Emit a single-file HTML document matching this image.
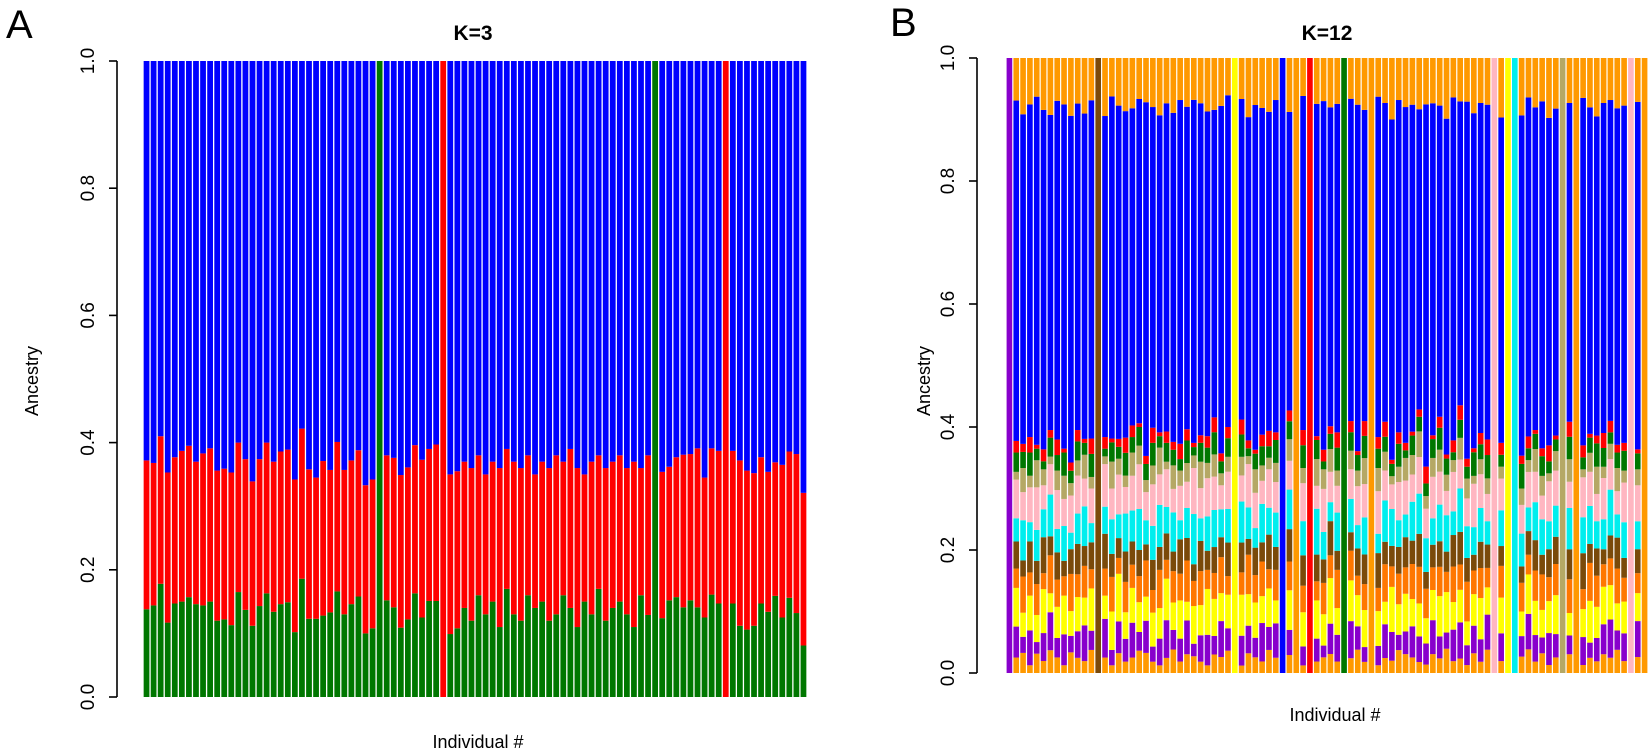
<!DOCTYPE html>
<html><head><meta charset="utf-8">
<style>
html,body{margin:0;padding:0;background:#fff;}
svg{display:block;font-family:"Liberation Sans",Arial,sans-serif;}
</style></head>
<body>
<svg id="fig" width="1650" height="751" viewBox="0 0 1650 751">
  <text x="6" y="38" font-size="40">A</text>
  <text x="890" y="36" font-size="40">B</text>
  <text x="473" y="40" font-size="21" font-weight="bold" text-anchor="middle">K=3</text>
  <text x="1327" y="40" font-size="21" font-weight="bold" text-anchor="middle">K=12</text>
  <text transform="translate(38,381) rotate(-90)" font-size="18" text-anchor="middle">Ancestry</text>
  <text transform="translate(930,381) rotate(-90)" font-size="18" text-anchor="middle">Ancestry</text>
  <text x="478" y="748" font-size="18" text-anchor="middle">Individual #</text>
  <text x="1335" y="721" font-size="18" text-anchor="middle">Individual #</text>
  <g id="gA"></g>
  <g id="gB"></g>
</svg>
<script>
// ---- Panel A data (K=3) ----
const greenA = [.138,.144,.178,.117,.147,.150,.157,.146,.144,.150,.120,.122,.113,.165,.137,.112,.143,.163,.134,.146,.149,.102,.186,.123,.123,.128,.133,.166,.130,.146,.158,.100,.108,
1,
.152,.141,.109,.122,.163,.125,.151,.151,
0,
.099,.108,
.14,.12,.16,.13,.15,.11,.17,.13,.12,.16,.14,.15,.12,.13,.16,.14,.11,.15,.13,.17,.12,.14,.15,.13,.11,.16,.129,
1,
.124,.152,.157,.141,.152,.141,.125,.161,.147,
0,
.147,.112,.106,.112,.147,.134,.159,.125,.156,.132,.081];
const redA = [.234,.224,.232,.236,.230,.237,.238,.224,.239,.241,.236,.237,.240,.235,.237,.227,.231,.237,.236,.240,.240,.240,.236,.235,.222,.243,.224,.235,.227,.226,.230,.233,.234,
0,
.228,.235,.240,.239,.233,.248,.239,.246,
1,
.251,.247,
.23,.24,.22,.22,.22,.25,.22,.24,.24,.22,.21,.22,.24,.25,.21,.25,.25,.20,.24,.21,.24,.23,.23,.23,.26,.20,.251,
0,
.23,.21,.22,.24,.23,.25,.22,.23,.24,
1,
.24,.26,.25,.24,.23,.22,.21,.24,.23,.25,.24];
const tickLabels = ["0.0","0.2","0.4","0.6","0.8","1.0"];
const tickValues = [0,0.2,0.4,0.6,0.8,1.0];

// ---- Panel B data (K=12), relative weights per individual, bottom to top ----
const orange1B = [3,4,5,2,5,3,6,4,2,5, 4,3,6,5,4,2,5,3,4,6, 5,3,2,4,6,3,5,4,3,2, 5,4,6,3,2,5,4,3,6,4, 3,5,4,2,6,3,4,5,3,2, 4,6,3,5,2,4,3,6,5,4, 3,2,5,4,6,3,4,2,5,3, 6,4,3,5,2,4,6,3,5,2, 4,3,5,6,2,4,3,5,4,6, 3,5,4,2];
const purpleB = [6,8,4,9,3,7,10,5,8,4, 7,9,5,6,10,4,8,6,9,5, 8,4,7,10,5,6,9,3,7,8, 5,9,6,4,8,7,5,10,6,9, 4,7,8,5,9,6,3,8,7,5, 10,6,4,8,5,9,7,4,6,8, 7,5,9,6,4,8,10,5,7,6, 9,4,7,8,6,5,9,7,4,8, 6,8,5,9,7,4,6,8,10,5, 7,6,9,4];
const yellowB = [8,10,6,9,7,11,5,8,10,6, 9,7,11,8,6,10,12,7,9,8, 6,9,8,11,7,10,5,9,8,12, 10,7,9,6,11,8,9,7,10,6, 8,11,7,9,6,10,8,12,7,9, 11,8,10,7,9,6,11,8,10,7, 9,6,8,11,10,7,9,6,8,11, 7,10,9,8,12,6,10,9,7,8, 10,8,6,9,7,11,8,10,9,7, 8,11,7,9];
const darkOrangeB = [7,5,9,6,8,4,10,7,5,9, 6,8,5,10,7,9,4,8,6,7, 9,6,10,5,8,7,11,6,9,5, 7,9,5,8,6,10,7,9,5,8, 6,8,10,7,9,5,8,6,10,7, 8,5,7,9,6,10,5,8,7,9, 10,7,6,8,5,9,7,10,6,8, 5,9,8,6,10,7,5,8,9,6, 8,6,9,7,5,10,8,6,7,9, 6,9,5,8];
const brownB = [5,7,4,8,6,9,5,7,4,6, 8,5,7,4,9,6,5,8,6,7, 4,8,6,7,5,9,6,4,8,5, 7,5,9,6,8,4,7,5,9,6, 6,9,5,8,4,7,6,9,5,8, 5,7,8,4,9,6,5,7,8,6, 9,4,6,7,5,8,9,6,4,7, 6,8,5,9,7,4,6,8,5,7, 7,5,8,6,9,5,7,4,6,8, 5,7,6,9];
const cyanB = [9,6,10,5,8,7,11,6,9,4, 8,10,5,12,7,9,6,10,8,11, 6,9,11,7,10,5,8,12,6,9, 10,7,9,6,11,8,5,10,7,9, 7,11,6,9,8,12,7,5,10,8, 9,6,10,8,5,11,9,7,6,10, 11,8,7,10,9,6,12,8,7,9, 6,10,9,7,11,8,6,10,9,7, 8,7,11,6,9,10,7,8,12,6, 9,8,7,10];
const pinkB = [8,10,7,9,11,6,8,10,7,9, 10,7,9,6,11,8,10,7,9,12, 7,11,8,10,6,9,7,11,8,10, 9,6,10,8,7,11,9,6,10,8, 11,8,7,10,9,6,11,8,7,9, 8,10,9,7,11,8,6,10,9,7, 10,7,11,9,6,10,8,7,11,9, 7,9,8,11,10,7,9,8,6,10, 9,11,7,8,10,9,7,11,8,6, 10,8,9,7];
const khakiB = [5,2,6,3,7,4,2,5,6,3, 4,6,3,5,2,7,4,3,6,5, 3,5,7,2,6,4,5,3,7,4, 6,3,4,7,5,2,6,4,3,5, 2,6,5,4,3,7,5,6,4,3, 5,4,7,3,6,5,2,4,6,5, 7,3,5,6,4,3,6,5,2,4, 4,6,3,5,7,4,3,6,5,2, 5,3,6,4,2,5,7,3,4,6, 3,5,4,6];
const greenB = [3,5,4,6,3,2,5,4,6,3, 5,3,6,4,2,5,3,6,4,5, 4,6,3,5,4,3,6,2,5,4, 6,3,5,4,6,2,4,5,3,6, 3,5,4,6,3,5,2,4,6,3, 5,4,6,3,5,4,3,6,2,5, 4,3,5,6,4,2,5,3,6,4, 6,5,3,4,5,6,3,4,5,3, 3,4,6,5,3,4,6,5,3,4, 5,3,4,6];
const redB = [1,3,2,4,1,3,2,4,1,2, 3,1,4,2,3,1,2,4,3,1, 2,4,1,3,2,4,3,1,2,3, 4,2,3,1,4,2,1,3,4,2, 1,3,2,4,2,1,3,2,4,3, 3,1,4,2,3,4,1,3,2,1, 2,4,1,3,1,3,4,2,1,3, 4,2,3,1,4,2,3,1,2,4, 1,3,4,2,3,1,2,4,3,2, 2,4,1,3];
const blueB = [84,88,82,86,90,85,83,87,89,84, 86,82,88,85,83,89,84,86,82,87, 88,85,83,87,84,90,86,82,88,85, 83,87,89,84,86,82,88,85,83,87, 85,83,86,88,82,87,89,84,86,83, 87,89,84,82,88,85,83,87,89,84, 82,86,88,85,83,87,84,90,85,88, 86,84,82,87,89,83,86,85,88,82, 84,88,85,83,87,86,82,88,84,87, 85,83,87,86];
const orange2B = [13,11,14,12,10,13,15,11,12,14, 12,14,11,13,15,10,12,14,13,11, 11,13,15,12,14,11,13,10,12,14, 14,12,10,13,11,15,12,13,14,11, 13,15,12,10,14,12,11,13,12,15, 11,12,14,13,10,12,15,11,13,12, 14,11,12,13,15,10,12,11,14,12, 12,13,15,11,12,14,10,13,11,15, 13,11,12,14,10,13,15,12,11,13, 12,14,11,13];
// individuals assigned entirely to one cluster (index, component)
const solidIndexB = [0,13,33,40,42,44,49,53,71,73,74,81,83,91,93];
const solidCompB  = [1,4,2,10,11,9,8,11,6,2,5,7,11,6,11];

const seriesB = [orange1B,purpleB,yellowB,darkOrangeB,brownB,cyanB,pinkB,khakiB,greenB,redB,blueB,orange2B];
const colorsB = ["#FF9900","#8800CC","#FFFF00","#FF7700","#7A4A0A","#00EEEE","#FFB6C1","#B5A865","#007700","#FF0000","#0000FF","#FF9900"];
const namesB = ["orange-base","purple","yellow","dark-orange","brown","cyan","pink","khaki","green","red","blue","orange-top"];

const NS = "http://www.w3.org/2000/svg";
function mk(tag, attrs, parent){ const e=document.createElementNS(NS,tag); for(const k in attrs) e.setAttribute(k,attrs[k]); parent.appendChild(e); return e; }

function drawAxis(g, axisX, y0, y1){
  const sy = v => y0 + (y1 - y0) * v;
  const ax = mk("line",{x1:axisX,x2:axisX,y1:sy(0),y2:sy(1),stroke:"#000","stroke-width":1.6},g);
  
  
  tickValues.forEach((v,i)=>{
    const t = mk("line",{x1:axisX-8,x2:axisX,y1:sy(v),y2:sy(v),stroke:"#000","stroke-width":1.6},g);
    
    
    const lx = axisX-30;
    const tx = mk("text",{transform:`translate(${lx+7},${sy(v)}) rotate(-90)`,"font-size":19,"text-anchor":"middle"},g);
    tx.textContent = tickLabels[i];
    
    
  });
  return sy;
}

// Panel A
(function(){
  const g = document.getElementById("gA");
  const y0=697, y1=61, xs=143, xe=807;
  const sy = drawAxis(g,117,y0,y1);
  const n = greenA.length, pitch=(xe-xs)/n, w=pitch-1.3;
  for(let i=0;i<n;i++){
    const vals=[greenA[i], redA[i], Math.max(0,1-greenA[i]-redA[i])];
    const cols=["#007700","#FF0000","#0000FF"];
    const nm=["green","red","blue"];
    let acc=0;
    vals.forEach((v,k)=>{
      if(v<=0) return;
      const r = mk("rect",{x:xs+i*pitch+0.65,y:sy(acc+v),width:w,height:sy(acc)-sy(acc+v),fill:cols[k]},g);
      
      
      acc+=v;
    });
  }
})();

// Panel B
(function(){
  const g = document.getElementById("gB");
  const y0=673, y1=58, xs=1006, xe=1648;
  const sy = drawAxis(g,977,y0,y1);
  const n = blueB.length, pitch=(xe-xs)/n, w=pitch-1.2;
  for(let i=0;i<n;i++){
    let vals = seriesB.map(s=>s[i]);
    const si = solidIndexB.indexOf(i);
    if(si>=0){ vals = vals.map((_,k)=> k===solidCompB[si]?1:0); }
    const tot = vals.reduce((a,b)=>a+b,0);
    let acc=0;
    vals.forEach((v,k)=>{
      if(v<=0) return;
      const f=v/tot;
      const r = mk("rect",{x:xs+i*pitch+0.6,y:sy(acc+f),width:w,height:sy(acc)-sy(acc+f),fill:colorsB[k]},g);
      
      
      acc+=f;
    });
  }
})();
</script>
</body></html>
